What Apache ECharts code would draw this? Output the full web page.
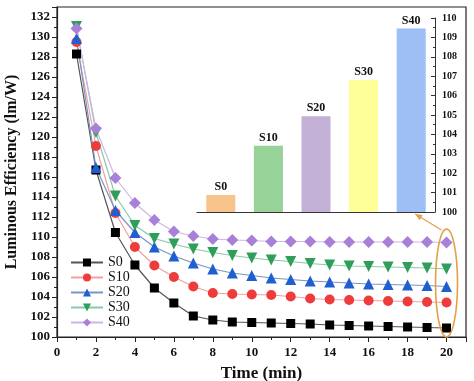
<!DOCTYPE html>
<html><head><meta charset="utf-8">
<script src="https://cdn.jsdelivr.net/npm/echarts@6/dist/echarts.min.js"></script>
<style>html,body{margin:0;padding:0;background:#fff}#c{width:474px;height:381px}</style>
</head><body><div id="c"></div>
<script>
var times = [1,2,3,4,5,6,7,8,9,10,11,12,13,14,15,16,17,18,19,20];
var S0  = [128.3,116.7,110.45,107.2,104.9,103.4,102.1,101.7,101.5,101.45,101.4,101.35,101.3,101.2,101.15,101.1,101.05,101.0,100.95,100.9];
var S10 = [129.5,119.1,112.4,109.0,107.15,106.0,105.05,104.4,104.3,104.25,104.2,104.05,103.85,103.75,103.7,103.65,103.6,103.55,103.5,103.45];
var S20 = [129.85,116.95,112.65,110.45,109.0,108.1,107.4,106.8,106.4,106.15,105.9,105.75,105.6,105.5,105.4,105.3,105.25,105.2,105.15,105.05];
var S30 = [131.05,120.45,114.1,111.15,109.85,109.3,108.8,108.45,108.15,107.9,107.7,107.55,107.35,107.2,107.1,107.05,107.0,106.95,106.9,106.8];
var S40 = [130.85,120.85,115.9,113.4,111.7,110.55,110.1,109.8,109.7,109.65,109.55,109.55,109.55,109.5,109.5,109.5,109.5,109.5,109.5,109.45];
var barNames = ['S0','S10','S20','S30','S40'];
var barValues = [100.88,103.41,104.94,106.81,109.46];

var FONT = 'Liberation Serif';
var chart = echarts.init(document.getElementById('c'));
function pairs(arr){ return arr.map(function(v,i){ return [times[i], v]; }); }
var seriesDefs = [
  {name:'S0', data:S0, symbol:'rect', color:'#000000', line:'#555555', size:9},
  {name:'S10', data:S10, symbol:'circle', color:'#EE3B3B', line:'#F2A0A0', size:10},
  {name:'S20', data:S20, symbol:'triangle', color:'#1F5FCF', line:'#7A94C4', size:11},
  {name:'S30', data:S30, symbol:'path://M0,0 L10,0 L5,9 Z', color:'#2E9E5A', line:'#86CBA6', size:11},
  {name:'S40', data:S40, symbol:'diamond', color:'#A880D8', line:'#CDB6E6', size:12}
];
var barColors = ['#F9C48C','#97D298','#C2B0D6','#FFFF99','#9EBEF6'];

var series = seriesDefs.map(function(s){
  return {
    name:s.name, type:'line', xAxisIndex:0, yAxisIndex:0,
    data:pairs(s.data), symbol:s.symbol, symbolSize:s.size,
    itemStyle:{color:s.color}, lineStyle:{color:s.line, width:1.2},
    z:3
  };
});
series.push({
  type:'bar', xAxisIndex:1, yAxisIndex:1, barWidth:'61%',
  data: barValues.map(function(v,i){ return {value:v, itemStyle:{color:barColors[i]}}; }),
  label:{show:true, position:'top', formatter:'{b}', fontFamily:FONT, fontWeight:'bold', fontSize:12, color:'#111', distance:2},
  z:2
});

var axisTxt = {fontFamily:FONT, fontWeight:'bold', fontSize:13, color:'#111'};
var option = {
  animation:false,
  textStyle:{fontFamily:FONT},
  grid:[
    {left:57, top:7, right:8, bottom:44, show:true, borderColor:'#222', borderWidth:1.2, containLabel:false, outerBoundsMode:'none'},
    {left:197, top:18, right:39, bottom:169, containLabel:false, outerBoundsMode:'none'}
  ],
  legend:{
    orient:'vertical', left:65, top:250, itemGap:0, itemWidth:32, itemHeight:10,
    textStyle:{fontFamily:FONT, fontSize:14, color:'#111', lineHeight:15, padding:[0,0,0,0]},
    data:['S0','S10','S20','S30','S40']
  },
  xAxis:[
    {type:'value', gridIndex:0, min:0, max:21, interval:2,
     name:'Time (min)', nameLocation:'middle', nameGap:28,
     nameTextStyle:{fontFamily:FONT, fontWeight:'bold', fontSize:17, color:'#111'},
     axisLine:{lineStyle:{color:'#222', width:1.2}},
     axisTick:{show:true, inside:false, length:5, lineStyle:{color:'#222'}},
     minorTick:{show:true, splitNumber:2, length:3, lineStyle:{color:'#222'}},
     axisLabel:Object.assign({showMaxLabel:false, margin:9}, axisTxt),
     splitLine:{show:false}},
    {type:'category', gridIndex:1, data:barNames,
     axisLine:{lineStyle:{color:'#333', width:1}}, axisTick:{show:false}, axisLabel:{show:false}}
  ],
  yAxis:[
    {type:'value', gridIndex:0, min:100, max:133, interval:2,
     name:'Luminous Efficiency (lm/W)', nameLocation:'middle', nameGap:36,
     nameTextStyle:{fontFamily:FONT, fontWeight:'bold', fontSize:16, color:'#111'},
     axisLine:{show:true, lineStyle:{color:'#222', width:1.2}},
     axisTick:{show:true, inside:false, length:5, lineStyle:{color:'#222'}},
     minorTick:{show:true, splitNumber:2, length:3, lineStyle:{color:'#222'}},
     axisLabel:Object.assign({showMaxLabel:false, margin:7}, axisTxt),
     splitLine:{show:false}},
    {type:'value', gridIndex:1, position:'right', min:100, max:110, interval:1,
     axisLine:{show:true, lineStyle:{color:'#333', width:1}},
     axisTick:{show:true, inside:true, length:4, lineStyle:{color:'#333'}},
     minorTick:{show:true, splitNumber:2, length:2, lineStyle:{color:'#333'}},
     axisLabel:{fontFamily:FONT, fontWeight:'bold', fontSize:10, color:'#111', margin:7, showMaxLabel:true, showMinLabel:true, hideOverlap:false},
     splitLine:{show:false}}
  ],
  series:series
};
chart.setOption(option);

// annotation: ellipse around t=20 points and arrow to inset S40 bar
var c = chart.convertToPixel({xAxisIndex:0, yAxisIndex:0}, [times[times.length-1], 105.4]);
var tgt = chart.convertToPixel({xAxisIndex:1, yAxisIndex:1}, [barNames.length-1, 100]);
var ry = 54, rx = 11;
var ax0 = c[0]-5, ay0 = c[1]-ry+1;
var ax1 = tgt[0]+4, ay1 = tgt[1]+2;
var ang = Math.atan2(ay1-ay0, ax1-ax0);
var hl = 7, hw = 3;
var p1 = [ax1 - hl*Math.cos(ang) + hw*Math.sin(ang), ay1 - hl*Math.sin(ang) - hw*Math.cos(ang)];
var p2 = [ax1 - hl*Math.cos(ang) - hw*Math.sin(ang), ay1 - hl*Math.sin(ang) + hw*Math.cos(ang)];
chart.setOption({graphic:[
  {type:'ellipse', shape:{cx:c[0], cy:c[1], rx:rx, ry:ry}, style:{fill:null, stroke:'#E3A048', lineWidth:1.6}, z:10},
  {type:'line', shape:{x1:ax0, y1:ay0, x2:ax1, y2:ay1}, style:{stroke:'#E3A048', lineWidth:1.2}, z:10},
  {type:'polygon', shape:{points:[[ax1,ay1],p1,p2]}, style:{fill:'#E3A048'}, z:10}
]});
</script>
</body></html>
